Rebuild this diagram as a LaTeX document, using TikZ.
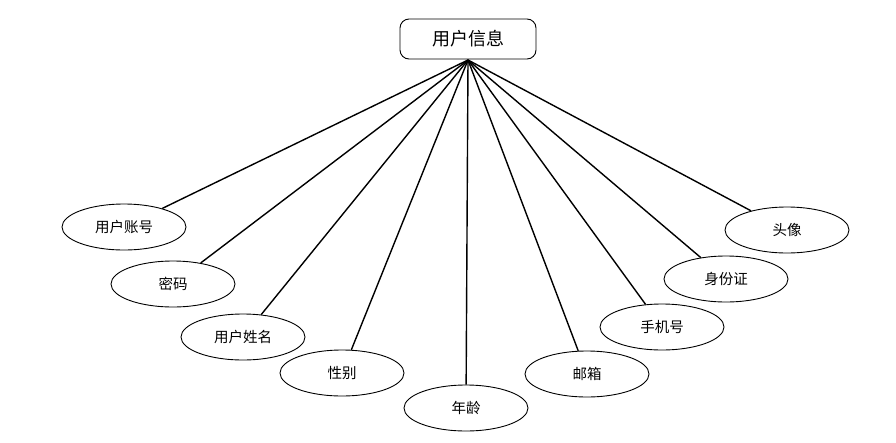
\documentclass[tikz,border=0pt]{standalone}
\usepackage{fontspec}
\setmainfont{Noto Sans CJK SC}
\usetikzlibrary{shapes.geometric}
\begin{document}
\begin{tikzpicture}[x=1pt,y=-1pt,
  attr/.style={draw,line width=0.9pt,ellipse,minimum width=124pt,minimum height=46pt,inner sep=0pt,font=\fontsize{14.5}{16}\selectfont},
  ent/.style={draw,line width=0.9pt,rounded corners=9pt,minimum width=136pt,minimum height=40pt,font=\fontsize{18}{20}\selectfont},
  link/.style={line width=1.4pt}]
\useasboundingbox (0,0) rectangle (896,442);
\node[ent] (u) at (468,39) {用户信息};
\coordinate (o) at (468,60);
\node[attr] (a1) at (124,227) {用户账号};
\node[attr] (a2) at (173,284) {密码};
\node[attr] (a3) at (243,337) {用户姓名};
\node[attr] (a4) at (342,373) {性别};
\node[attr] (a5) at (466,408) {年龄};
\node[attr] (a6) at (587,374) {邮箱};
\node[attr] (a7) at (662,327) {手机号};
\node[attr] (a8) at (726,279) {身份证};
\node[attr] (a9) at (787,230) {头像};
\foreach \n in {a1,a2,a3,a4,a5,a6,a7,a8,a9} \draw[link] (o) -- (\n);
\end{tikzpicture}
\end{document}
